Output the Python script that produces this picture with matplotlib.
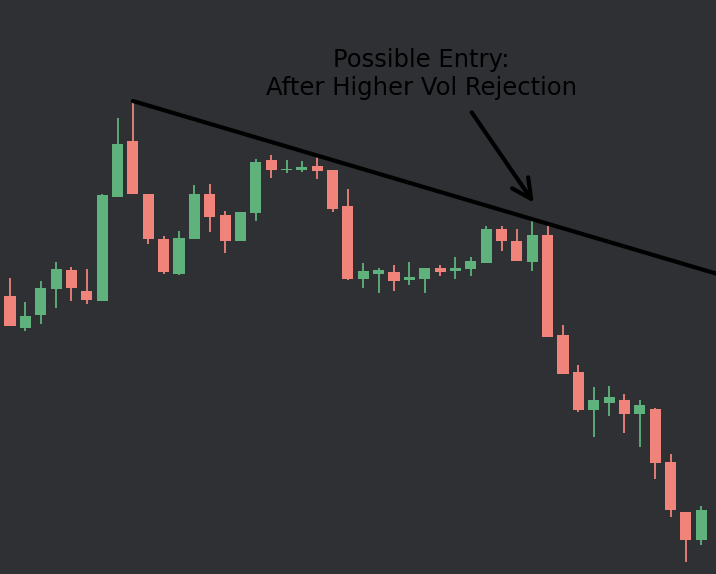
import matplotlib
matplotlib.use("Agg")
import matplotlib.pyplot as plt

opens  = [293,304,272,285,311,330,309,299,403,459,406,361,326,361,406,385,359,387,440,430,430,434,430,394,321,326,328,320,321,332,329,331,337,371,359,338,365,265,228,190,197,200,186,191,138,88,60]
highs  = [305,322,298,319,338,333,331,406,482,499,406,364,369,415,416,389,388,441,445,440,439,446,430,411,337,332,335,338,332,335,343,343,374,374,371,381,375,275,235,213,214,206,200,192,146,88,94]
lows   = [290,274,269,276,292,299,296,299,403,406,356,326,325,361,368,347,359,379,422,427,428,421,388,320,312,307,309,315,307,324,321,324,337,349,339,329,263,226,188,163,184,167,153,121,83,38,55]
closes = [303,274,284,312,331,312,300,405,456,406,361,328,362,406,383,359,388,438,430,431,433,429,391,321,329,330,319,323,332,328,332,339,371,359,339,365,263,226,190,200,203,186,195,137,90,60,90]
trend_x = [9.0, 47.5]
trend_y = [499, 324]
annotation = "Possible Entry:\nAfter Higher Vol Rejection"

BG = "#2e3034"
UP = "#5fb27b"
DN = "#f0837a"

fig = plt.figure(figsize=(7.16, 5.74), dpi=100, facecolor=BG)
ax = fig.add_axes([0, 0, 1, 1], facecolor=BG)
for i, (o, h, l, c) in enumerate(zip(opens, highs, lows, closes)):
    col = UP if c >= o else DN
    ax.vlines(i, l, h, color=col, lw=1.3, zorder=2)
    lo, hi = min(o, c), max(o, c)
    ax.bar(i, max(hi - lo, 1.5), bottom=lo, width=0.72, color=col, zorder=3)

ax.plot(trend_x, trend_y, color="black", lw=3, solid_capstyle="round", zorder=4)
ax.annotate("", xy=(35.2, 395), xytext=(30.95, 490),
            arrowprops=dict(arrowstyle="->,head_length=1.4,head_width=0.7", color="black", lw=3), zorder=5)
ax.text(27.8, 526, annotation, ha="center", va="center", fontsize=17.5, color="black",
        fontweight="medium", linespacing=1.2, zorder=5)

ax.set_xlim(0.349, 46.96)
ax.set_ylim(26, 600)
ax.axis("off")
fig.savefig("out.png", dpi=100, facecolor=BG)
